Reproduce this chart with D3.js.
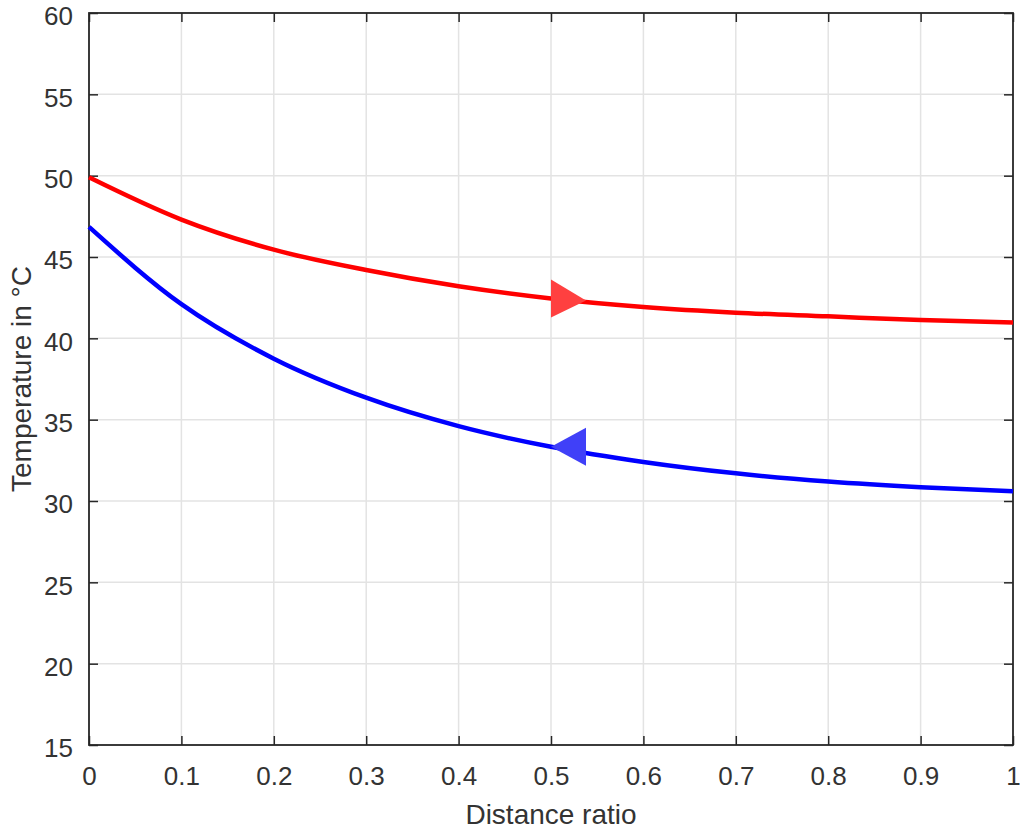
<!DOCTYPE html>
<html>
<head>
<meta charset="utf-8">
<script src="https://cdn.jsdelivr.net/npm/d3@7"></script>
<style>
  body { margin: 0; background: #fff; }
  svg { font-family: "Liberation Sans", Arial, sans-serif; }
</style>
</head>
<body>
<script>
// distance ratio samples
const ratios = [0, 0.1, 0.2, 0.3, 0.4, 0.5, 0.6, 0.7, 0.8, 0.9, 1.0];
// hot side (red) and cold side (blue) temperatures in °C
const hotTemps = [49.9, 47.3, 45.45, 44.2, 43.2, 42.45, 41.93, 41.58, 41.35, 41.12, 40.97];
const coldTemps = [46.85, 42.1, 38.75, 36.35, 34.6, 33.33, 32.4, 31.7, 31.2, 30.85, 30.6];
// flow direction arrows: at ratio 0.5, +1 = right, -1 = left
const arrowRatios = [0.5, 0.5];
const arrowDirs = [1, -1];

const xTicks = [0, 0.1, 0.2, 0.3, 0.4, 0.5, 0.6, 0.7, 0.8, 0.9, 1];
const yTicks = [15, 20, 25, 30, 35, 40, 45, 50, 55, 60];

const width = 1020, height = 830;
const margin = {top: 13, right: 7, bottom: 85, left: 89};

const svg = d3.select('body')
    .append('svg')
    .attr('width', width)
    .attr('height', height);

const x = d3.scaleLinear()
    .domain([0, 1])
    .range([margin.left, width - margin.right]);

const y = d3.scaleLinear()
    .domain([15, 60])
    .range([height - margin.bottom, margin.top]);

// grid
svg.append('g')
    .selectAll('line')
    .data(xTicks.slice(1, -1))
    .join('line')
    .attr('x1', d => x(d)).attr('x2', d => x(d))
    .attr('y1', y(15)).attr('y2', y(60))
    .attr('stroke', '#e3e3e3')
    .attr('stroke-width', 1.5);

svg.append('g')
    .selectAll('line')
    .data(yTicks.slice(1, -1))
    .join('line')
    .attr('x1', x(0)).attr('x2', x(1))
    .attr('y1', d => y(d)).attr('y2', d => y(d))
    .attr('stroke', '#e3e3e3')
    .attr('stroke-width', 1.5);

// axes with inward ticks, on all four sides
const tickLen = 9;
const axisColor = '#262626';
const fmt = d => d3.format('~g')(d);

function styleAxis(g) {
    g.select('.domain').remove();
    g.selectAll('.tick line').attr('stroke', axisColor).attr('stroke-width', 1.5);
    g.selectAll('.tick text')
        .attr('fill', '#333')
        .style('font-size', '26px');
}

svg.append('g')
    .attr('transform', `translate(0,${y(15)})`)
    .call(d3.axisBottom(x).tickValues(xTicks).tickFormat(fmt).tickSizeInner(-tickLen).tickSizeOuter(0).tickPadding(22))
    .call(styleAxis);

svg.append('g')
    .attr('transform', `translate(0,${y(60)})`)
    .call(d3.axisTop(x).tickValues(xTicks).tickFormat('').tickSizeInner(-tickLen).tickSizeOuter(0))
    .call(styleAxis);

svg.append('g')
    .attr('transform', `translate(${x(0)},0)`)
    .call(d3.axisLeft(y).tickValues(yTicks).tickFormat(fmt).tickSizeInner(-tickLen).tickSizeOuter(0).tickPadding(16))
    .call(styleAxis)
    .selectAll('.tick text').attr('dy', '0.45em');

svg.append('g')
    .attr('transform', `translate(${x(1)},0)`)
    .call(d3.axisRight(y).tickValues(yTicks).tickFormat('').tickSizeInner(-tickLen).tickSizeOuter(0))
    .call(styleAxis);

// box
svg.append('rect')
    .attr('x', x(0)).attr('y', y(60))
    .attr('width', x(1) - x(0)).attr('height', y(15) - y(60))
    .attr('fill', 'none')
    .attr('stroke', axisColor)
    .attr('stroke-width', 1.8);

// curves
const line = d3.line()
    .x((d, i) => x(ratios[i]))
    .y(d => y(d))
    .curve(d3.curveMonotoneX);

const series = [
    {values: hotTemps, color: '#ff0000', arrow: '#ff4040'},
    {values: coldTemps, color: '#0000ff', arrow: '#4040f8'}
];

series.forEach(s => {
    svg.append('path')
        .datum(s.values)
        .attr('fill', 'none')
        .attr('stroke', s.color)
        .attr('stroke-width', 4.5)
        .attr('d', line);
});

// arrows: horizontal triangles, base or tip at ratio 0.5 on the curve
const interp = (vals, r) => {
    const i = Math.min(Math.floor(r * 10), 9);
    const t = r * 10 - i;
    return vals[i] + (vals[i + 1] - vals[i]) * t;
};
const arrowLen = 35, arrowHalf = 19;

series.forEach((s, k) => {
    const px = x(arrowRatios[k]);
    const py = y(interp(s.values, arrowRatios[k]));
    let pts;
    if (arrowDirs[k] > 0) {
        pts = [[px, py - arrowHalf], [px, py + arrowHalf], [px + arrowLen, py + 2]];
    } else {
        pts = [[px, py], [px + arrowLen, py - arrowHalf], [px + arrowLen, py + arrowHalf]];
    }
    svg.append('path')
        .attr('d', d3.line()(pts) + 'Z')
        .attr('fill', s.arrow);
});

// axis labels
svg.append('text')
    .attr('x', (x(0) + x(1)) / 2)
    .attr('y', 824)
    .attr('text-anchor', 'middle')
    .attr('fill', '#333')
    .style('font-size', '28px')
    .text('Distance ratio');

svg.append('text')
    .attr('transform', `translate(31,${(y(15) + y(60)) / 2}) rotate(-90)`)
    .attr('text-anchor', 'middle')
    .attr('fill', '#333')
    .style('font-size', '28px')
    .text('Temperature in °C');
</script>
</body>
</html>
